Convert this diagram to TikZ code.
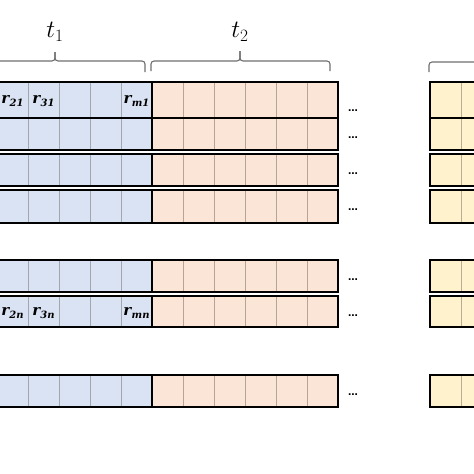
\documentclass[tikz,border=0pt]{standalone}
\usepackage{fontspec}
\newfontfamily\dotsfont{Liberation Sans}
\newfontfamily\labfont{DejaVu Serif}
\definecolor{cblue}{HTML}{DAE3F3}
\definecolor{corange}{HTML}{FBE5D6}
\definecolor{cyellow}{HTML}{FFF2CC}
\definecolor{divblue}{HTML}{A3A6AC}
\definecolor{divorange}{HTML}{B5A597}
\definecolor{divyellow}{HTML}{B5AD95}
\definecolor{bracegray}{HTML}{6E6E6E}
\newcommand\rlab[1]{r\kern0.3pt\raisebox{-3.5pt}{\fontsize{10}{12}\selectfont #1}}
\tikzset{
  border/.style={draw=black,line width=1.6pt},
  bluediv/.style={draw=divblue,line width=1pt},
  orangediv/.style={draw=divorange,line width=1pt},
  yellowdiv/.style={draw=divyellow,line width=1pt},
  bracestyle/.style={draw=bracegray,line width=1.1pt,rounded corners=3pt},
  dotsnode/.style={inner sep=0pt,font=\dotsfont\bfseries\fontsize{12}{14}\selectfont},
  rlabel/.style={inner sep=0pt,font=\labfont\bfseries\itshape\fontsize{15}{17}\selectfont},
  tlabel/.style={inner sep=0pt,font=\fontsize{23}{27}\selectfont},
}
\begin{document}
\begin{tikzpicture}[x=1pt,y=-1pt]
\useasboundingbox (0,0) rectangle (474,474);
\clip (0,0) rectangle (474,474);
% rows: top, bottom, dots y
\foreach \T/\B/\D [count=\i] in {82/118/111,118/150/138,154/186/174,190/223/210,260/292/280,296/327/316,375/407/395}{
  \fill[cblue] (-3,\T) rectangle (152,\B);
  \fill[corange] (152,\T) rectangle (338,\B);
  \fill[cyellow] (430,\T) rectangle (500,\B);
  \foreach \x in {28,59,90,121} \draw[bluediv] (\x,\T) -- (\x,\B);
  \foreach \x in {183,214,245,276,307} \draw[orangediv] (\x,\T) -- (\x,\B);
  \draw[yellowdiv] (461,\T) -- (461,\B);
  \draw[border] (-3,\T) rectangle (338,\B);
  \draw[border] (152,\T) -- (152,\B);
  \draw[border] (430,\T) rectangle (500,\B);
  \node[dotsnode] (dots\i) at (353,\D) {...};
}
% labels
\node[rlabel] (r21) at (12.5,101) {\rlab{21}};
\node[rlabel] (r31) at (43.5,101) {\rlab{31}};
\node[rlabel] (rm1) at (136.5,101) {\rlab{m1}};
\node[rlabel] (r2n) at (12.5,313) {\rlab{2n}};
\node[rlabel] (r3n) at (43.5,313) {\rlab{3n}};
\node[rlabel] (rmn) at (136.5,313) {\rlab{mn}};
% braces
\coordinate (b1L) at (-35,72); \coordinate (b1R) at (145,72); \coordinate (b1T) at (55,52);
\draw[bracestyle] (b1L) |- (b1T |- 0,61) -- (b1T);
\draw[bracestyle] (b1R) |- (b1T |- 0,61) -- (b1T);
\coordinate (b2L) at (151,71); \coordinate (b2R) at (330,71); \coordinate (b2T) at (240,51);
\draw[bracestyle] (b2L) |- (b2T |- 0,61) -- (b2T);
\draw[bracestyle] (b2R) |- (b2T |- 0,61) -- (b2T);
\coordinate (b3L) at (429,72); \coordinate (b3R) at (490,62);
\draw[bracestyle] (b3L) |- (b3R);
\node[tlabel] (t1) at (55,32) {$t_1$};
\node[tlabel] (t2) at (240,32) {$t_2$};
\end{tikzpicture}
\end{document}
